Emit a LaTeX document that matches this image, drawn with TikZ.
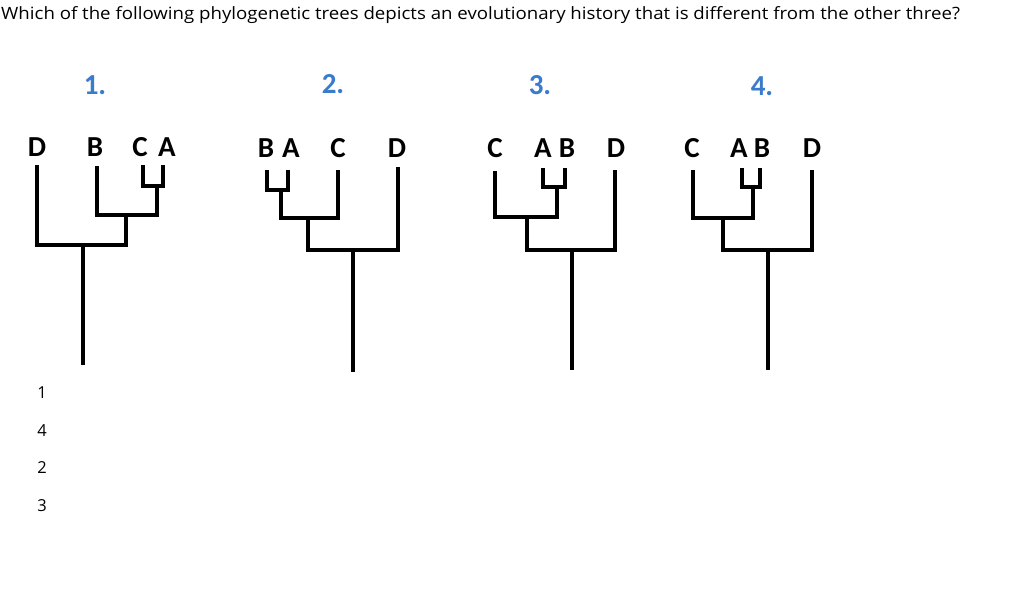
\documentclass[tikz,border=0pt]{standalone}
\usepackage{fontspec}
\setmainfont{Open Sans}
\newfontfamily\titlefont[FakeStretch=1.1]{Open Sans}
\newfontfamily\lblfont{Carlito}
\definecolor{numblue}{HTML}{3A7BCB}
\begin{document}
\begin{tikzpicture}[x=1pt,y=-1pt,
  br/.style={line width=3.8pt,line join=miter,line cap=rect,black},
  taxon/.style={font=\lblfont\bfseries\fontsize{29}{29}\selectfont,inner sep=0pt,anchor=base},
  treenum/.style={font=\lblfont\bfseries\fontsize{29}{29}\selectfont,text=numblue,inner sep=0pt,anchor=base},
  choice/.style={font=\fontsize{16.5}{16}\selectfont,inner sep=0pt,anchor=base}]
\useasboundingbox[fill=white] (0,0) rectangle (1024,604);
\node[font=\titlefont\fontsize{16.95}{16}\selectfont,inner sep=0pt,anchor=base west] (title) at (1,20) {Which of the following phylogenetic trees depicts an evolutionary history that is different from the other three?};
% tree numbers
\node[treenum] (n1) at (95,95) {1.};
\node[treenum] (n2) at (333,94) {2.};
\node[treenum] (n3) at (540,95) {3.};
\node[treenum] (n4) at (762,96) {4.};
% ---- tree 1
\node[taxon] (lD1) at (37,157) {D};
\node[taxon] (lB1) at (95,157) {B};
\node[taxon] (lC1) at (140,157) {C};
\node[taxon] (lA1) at (167,157) {A};
\coordinate (D1) at (37,167);
\coordinate (B1) at (97,168);
\coordinate (C1) at (143,167);
\coordinate (A1) at (163,167);
\coordinate (ca1) at (157,186);
\coordinate (bca1) at (126,215);
\coordinate (r1) at (83,245);
\coordinate (e1) at (83,363);
\draw[br] (C1) |- (ca1) -| (A1);
\draw[br] (B1) |- (bca1) -| (ca1);
\draw[br] (D1) |- (r1) -| (bca1);
\draw[br] (r1) -- (e1);
% ---- tree 2
\node[taxon] (lB2) at (266,158) {B};
\node[taxon] (lA2) at (291,158) {A};
\node[taxon] (lC2) at (338,158) {C};
\node[taxon] (lD2) at (397,158) {D};
\coordinate (B2) at (267,172);
\coordinate (A2) at (288,172);
\coordinate (C2) at (338,172);
\coordinate (D2) at (398,169);
\coordinate (ba2) at (281,190);
\coordinate (bac2) at (308,218);
\coordinate (r2) at (353,250);
\coordinate (e2) at (353,370);
\draw[br] (B2) |- (ba2) -| (A2);
\draw[br] (ba2) |- (bac2) -| (C2);
\draw[br] (bac2) |- (r2) -| (D2);
\draw[br] (r2) -- (e2);
% ---- tree 3
\node[taxon] (lC3) at (495,158) {C};
\node[taxon] (lA3) at (543,158) {A};
\node[taxon] (lB3) at (567,158) {B};
\node[taxon] (lD3) at (616,158) {D};
\coordinate (C3) at (495,173);
\coordinate (A3) at (543,170);
\coordinate (B3) at (565,170);
\coordinate (D3) at (615,172);
\coordinate (ab3) at (557,187);
\coordinate (cab3) at (527,217);
\coordinate (r3) at (572,250);
\coordinate (e3) at (572,368);
\draw[br] (A3) |- (ab3) -| (B3);
\draw[br] (C3) |- (cab3) -| (ab3);
\draw[br] (cab3) |- (r3) -| (D3);
\draw[br] (r3) -- (e3);
% ---- tree 4
\node[taxon] (lC4) at (692,158) {C};
\node[taxon] (lA4) at (739,158) {A};
\node[taxon] (lB4) at (762,158) {B};
\node[taxon] (lD4) at (812,158) {D};
\coordinate (C4) at (693,172);
\coordinate (A4) at (742,170);
\coordinate (B4) at (760,170);
\coordinate (D4) at (812,172);
\coordinate (ab4) at (753,187);
\coordinate (cab4) at (723,218);
\coordinate (r4) at (768,250);
\coordinate (e4) at (768,368);
\draw[br] (A4) |- (ab4) -| (B4);
\draw[br] (C4) |- (cab4) -| (ab4);
\draw[br] (cab4) |- (r4) -| (D4);
\draw[br] (r4) -- (e4);
% answer choices
\node[choice] (c1) at (42,398) {1};
\node[choice] (c4) at (42,436) {4};
\node[choice] (c2) at (42,473) {2};
\node[choice] (c3) at (42,511) {3};
\end{tikzpicture}
\end{document}
